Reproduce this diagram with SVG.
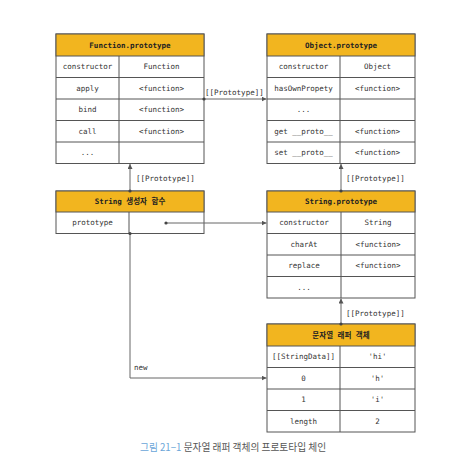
<svg xmlns="http://www.w3.org/2000/svg" width="474" height="463" viewBox="0 0 474 463">
<defs>
<style>
.hd{fill:#f2b51f;stroke:#555;stroke-width:1}
.tb{fill:#fff;stroke:#555;stroke-width:1}
.ln{stroke:#555;stroke-width:1;fill:none}
.t{font-family:"DejaVu Sans Mono","Noto Sans CJK KR",monospace;font-size:7.5px;fill:#333;text-anchor:middle;dominant-baseline:central}
.h{font-family:"DejaVu Sans Mono","Noto Sans CJK KR",monospace;font-size:7.5px;font-weight:bold;fill:#222;text-anchor:middle;dominant-baseline:central}
.lb{font-family:"DejaVu Sans Mono",monospace;font-size:7.5px;fill:#333;dominant-baseline:central}
.c{stroke:#666;stroke-width:1;fill:none}
.d{fill:#444}
</style>
<marker id="ar" viewBox="0 0 6 6" refX="6" refY="3" markerWidth="5" markerHeight="5" orient="auto" markerUnits="userSpaceOnUse">
<path d="M0,0 L6,3 L0,6 z" fill="#555"/>
</marker>
</defs>
<rect width="474" height="463" fill="#fff"/>

<g id="function-prototype">
<rect class="tb" x="56" y="34" width="148" height="129.5"/>
<rect class="hd" x="56" y="34" width="148" height="22"/>
<path class="ln" d="M56,77.5H204M56,99H204M56,120.5H204M56,142H204M119,56V163.5"/>
<text class="h" x="130" y="45">Function.prototype</text>
<text class="t" x="87.5" y="66.75">constructor</text><text class="t" x="161.5" y="66.75">Function</text>
<text class="t" x="87.5" y="88.25">apply</text><text class="t" x="161.5" y="88.25">&lt;function&gt;</text>
<text class="t" x="87.5" y="109.75">bind</text><text class="t" x="161.5" y="109.75">&lt;function&gt;</text>
<text class="t" x="87.5" y="131.25">call</text><text class="t" x="161.5" y="131.25">&lt;function&gt;</text>
<text class="t" x="87.5" y="152.75">...</text>
</g>

<g id="object-prototype">
<rect class="tb" x="267" y="34" width="148" height="129.5"/>
<rect class="hd" x="267" y="34" width="148" height="22"/>
<path class="ln" d="M267,77.5H415M267,99H415M267,120.5H415M267,142H415M340,56V163.5"/>
<text class="h" x="341" y="45">Object.prototype</text>
<text class="t" x="303.5" y="66.75">constructor</text><text class="t" x="377.5" y="66.75">Object</text>
<text class="t" x="303.5" y="88.25">hasOwnPropety</text><text class="t" x="377.5" y="88.25">&lt;function&gt;</text>
<text class="t" x="303.5" y="109.75">...</text>
<text class="t" x="303.5" y="131.25">get __proto__</text><text class="t" x="377.5" y="131.25">&lt;function&gt;</text>
<text class="t" x="303.5" y="152.75">set __proto__</text><text class="t" x="377.5" y="152.75">&lt;function&gt;</text>
</g>

<g id="string-constructor">
<rect class="tb" x="56" y="191" width="148" height="42.5"/>
<rect class="hd" x="56" y="191" width="148" height="21"/>
<path class="ln" d="M129,212V233.5"/>
<text class="h" x="130" y="201.5">String 생성자 함수</text>
<text class="t" x="92.5" y="222.75">prototype</text>
</g>

<g id="string-prototype">
<rect class="tb" x="267" y="191" width="148" height="107"/>
<rect class="hd" x="267" y="191" width="148" height="21"/>
<path class="ln" d="M267,233.5H415M267,255H415M267,276.5H415M341,212V298"/>
<text class="h" x="341" y="201.5">String.prototype</text>
<text class="t" x="304" y="222.75">constructor</text><text class="t" x="378" y="222.75">String</text>
<text class="t" x="304" y="244.25">charAt</text><text class="t" x="378" y="244.25">&lt;function&gt;</text>
<text class="t" x="304" y="265.75">replace</text><text class="t" x="378" y="265.75">&lt;function&gt;</text>
<text class="t" x="304" y="287.25">...</text>
</g>

<g id="string-wrapper-object">
<rect class="tb" x="267" y="324" width="148" height="108"/>
<rect class="hd" x="267" y="324" width="148" height="22"/>
<path class="ln" d="M267,367.5H415M267,389H415M267,410.5H415M340,346V432"/>
<text class="h" x="341" y="335">문자열 래퍼 객체</text>
<text class="t" x="303.5" y="356.75">[[StringData]]</text><text class="t" x="377.5" y="356.75">'hi'</text>
<text class="t" x="303.5" y="378.25">0</text><text class="t" x="377.5" y="378.25">'h'</text>
<text class="t" x="303.5" y="399.75">1</text><text class="t" x="377.5" y="399.75">'i'</text>
<text class="t" x="303.5" y="421.25">length</text><text class="t" x="377.5" y="421.25">2</text>
</g>

<g id="connectors">
<path class="c" d="M204,99H266.5" marker-end="url(#ar)"/>
<circle class="d" cx="204" cy="99" r="1.6"/>
<text class="lb" x="205" y="92">[[Prototype]]</text>

<path class="c" d="M130,191V164" marker-end="url(#ar)"/>
<circle class="d" cx="130" cy="191" r="1.6"/>
<text class="lb" x="136" y="178">[[Prototype]]</text>

<path class="c" d="M166,223H266.5" marker-end="url(#ar)"/>
<circle class="d" cx="166" cy="223" r="1.6"/>

<path class="c" d="M130,233.5V378H266.5" marker-end="url(#ar)"/>
<circle class="d" cx="130" cy="233.5" r="1.6"/>
<text class="lb" x="134" y="367">new</text>

<path class="c" d="M341,191V164" marker-end="url(#ar)"/>
<circle class="d" cx="341" cy="191" r="1.6"/>
<text class="lb" x="346" y="178">[[Prototype]]</text>

<path class="c" d="M341,324V298.5" marker-end="url(#ar)"/>
<circle class="d" cx="341" cy="324" r="1.6"/>
<text class="lb" x="346" y="313">[[Prototype]]</text>
</g>

<text x="140" y="450.5" font-family="'Noto Sans CJK KR',sans-serif" font-size="9.7" fill="#555"><tspan fill="#6aa6d8">그림 21−1</tspan> 문자열 래퍼 객체의 프로토타입 체인</text>
</svg>
